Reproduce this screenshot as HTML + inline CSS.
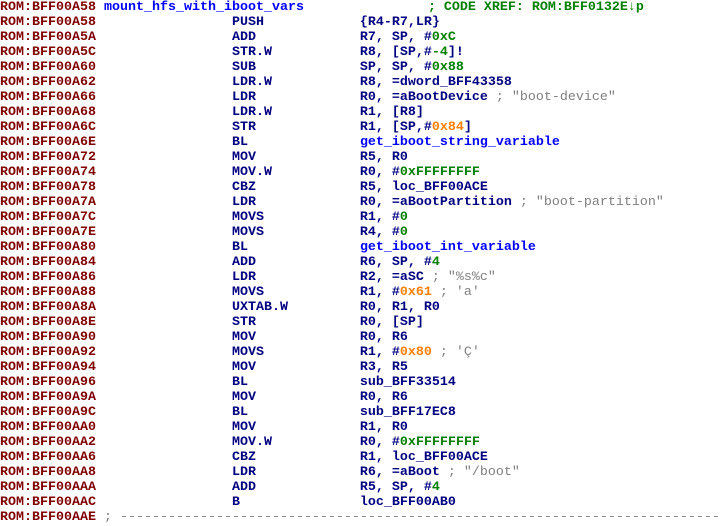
<!DOCTYPE html>
<html><head><meta charset="utf-8"><style>
html,body{margin:0;padding:0;background:#fff;width:724px;height:526px;overflow:hidden}
.w{position:absolute;left:0;top:0px}
.l{height:15px;line-height:15px;white-space:pre;font-family:"Liberation Mono",monospace;font-size:13.33px;font-weight:bold;color:#000080}
.a{color:#800000}.b{color:#0000ff}.g{color:#008000}.o{color:#ff8000}.c{color:#808080;font-weight:normal}
</style></head><body><div class="w">
<div class="l"><span class="a">ROM:BFF00A58</span> <span class="b">mount_hfs_with_iboot_vars</span>               <span class="g" style="margin-left:4px">; CODE XREF: ROM:BFF0132E↓p</span></div>
<div class="l"><span class="a">ROM:BFF00A58</span>                 PUSH            {R4-R7,LR}</div>
<div class="l"><span class="a">ROM:BFF00A5A</span>                 ADD             R7, SP, #<span class="g">0xC</span></div>
<div class="l"><span class="a">ROM:BFF00A5C</span>                 STR.W           R8, [SP,#<span class="g">-4</span>]!</div>
<div class="l"><span class="a">ROM:BFF00A60</span>                 SUB             SP, SP, #<span class="g">0x88</span></div>
<div class="l"><span class="a">ROM:BFF00A62</span>                 LDR.W           R8, =dword_BFF43358</div>
<div class="l"><span class="a">ROM:BFF00A66</span>                 LDR             R0, =aBootDevice <span class="c">; "boot-device"</span></div>
<div class="l"><span class="a">ROM:BFF00A68</span>                 LDR.W           R1, [R8]</div>
<div class="l"><span class="a">ROM:BFF00A6C</span>                 STR             R1, [SP,#<span class="o">0x84</span>]</div>
<div class="l"><span class="a">ROM:BFF00A6E</span>                 BL              <span class="b">get_iboot_string_variable</span></div>
<div class="l"><span class="a">ROM:BFF00A72</span>                 MOV             R5, R0</div>
<div class="l"><span class="a">ROM:BFF00A74</span>                 MOV.W           R0, #<span class="g">0xFFFFFFFF</span></div>
<div class="l"><span class="a">ROM:BFF00A78</span>                 CBZ             R5, loc_BFF00ACE</div>
<div class="l"><span class="a">ROM:BFF00A7A</span>                 LDR             R0, =aBootPartition <span class="c">; "boot-partition"</span></div>
<div class="l"><span class="a">ROM:BFF00A7C</span>                 MOVS            R1, #<span class="g">0</span></div>
<div class="l"><span class="a">ROM:BFF00A7E</span>                 MOVS            R4, #<span class="g">0</span></div>
<div class="l"><span class="a">ROM:BFF00A80</span>                 BL              <span class="b">get_iboot_int_variable</span></div>
<div class="l"><span class="a">ROM:BFF00A84</span>                 ADD             R6, SP, #<span class="g">4</span></div>
<div class="l"><span class="a">ROM:BFF00A86</span>                 LDR             R2, =aSC <span class="c">; "%s%c"</span></div>
<div class="l"><span class="a">ROM:BFF00A88</span>                 MOVS            R1, #<span class="o">0x61</span> <span class="c">; 'a'</span></div>
<div class="l"><span class="a">ROM:BFF00A8A</span>                 UXTAB.W         R0, R1, R0</div>
<div class="l"><span class="a">ROM:BFF00A8E</span>                 STR             R0, [SP]</div>
<div class="l"><span class="a">ROM:BFF00A90</span>                 MOV             R0, R6</div>
<div class="l"><span class="a">ROM:BFF00A92</span>                 MOVS            R1, #<span class="o">0x80</span> <span class="c">; 'Ç'</span></div>
<div class="l"><span class="a">ROM:BFF00A94</span>                 MOV             R3, R5</div>
<div class="l"><span class="a">ROM:BFF00A96</span>                 BL              sub_BFF33514</div>
<div class="l"><span class="a">ROM:BFF00A9A</span>                 MOV             R0, R6</div>
<div class="l"><span class="a">ROM:BFF00A9C</span>                 BL              sub_BFF17EC8</div>
<div class="l"><span class="a">ROM:BFF00AA0</span>                 MOV             R1, R0</div>
<div class="l"><span class="a">ROM:BFF00AA2</span>                 MOV.W           R0, #<span class="g">0xFFFFFFFF</span></div>
<div class="l"><span class="a">ROM:BFF00AA6</span>                 CBZ             R1, loc_BFF00ACE</div>
<div class="l"><span class="a">ROM:BFF00AA8</span>                 LDR             R6, =aBoot <span class="c">; "/boot"</span></div>
<div class="l"><span class="a">ROM:BFF00AAA</span>                 ADD             R5, SP, #<span class="g">4</span></div>
<div class="l"><span class="a">ROM:BFF00AAC</span>                 B               loc_BFF00AB0</div>
<div class="l"><span class="a">ROM:BFF00AAE</span> <span class="c">; ---------------------------------------------------------------------------</span></div>
</div></body></html>
